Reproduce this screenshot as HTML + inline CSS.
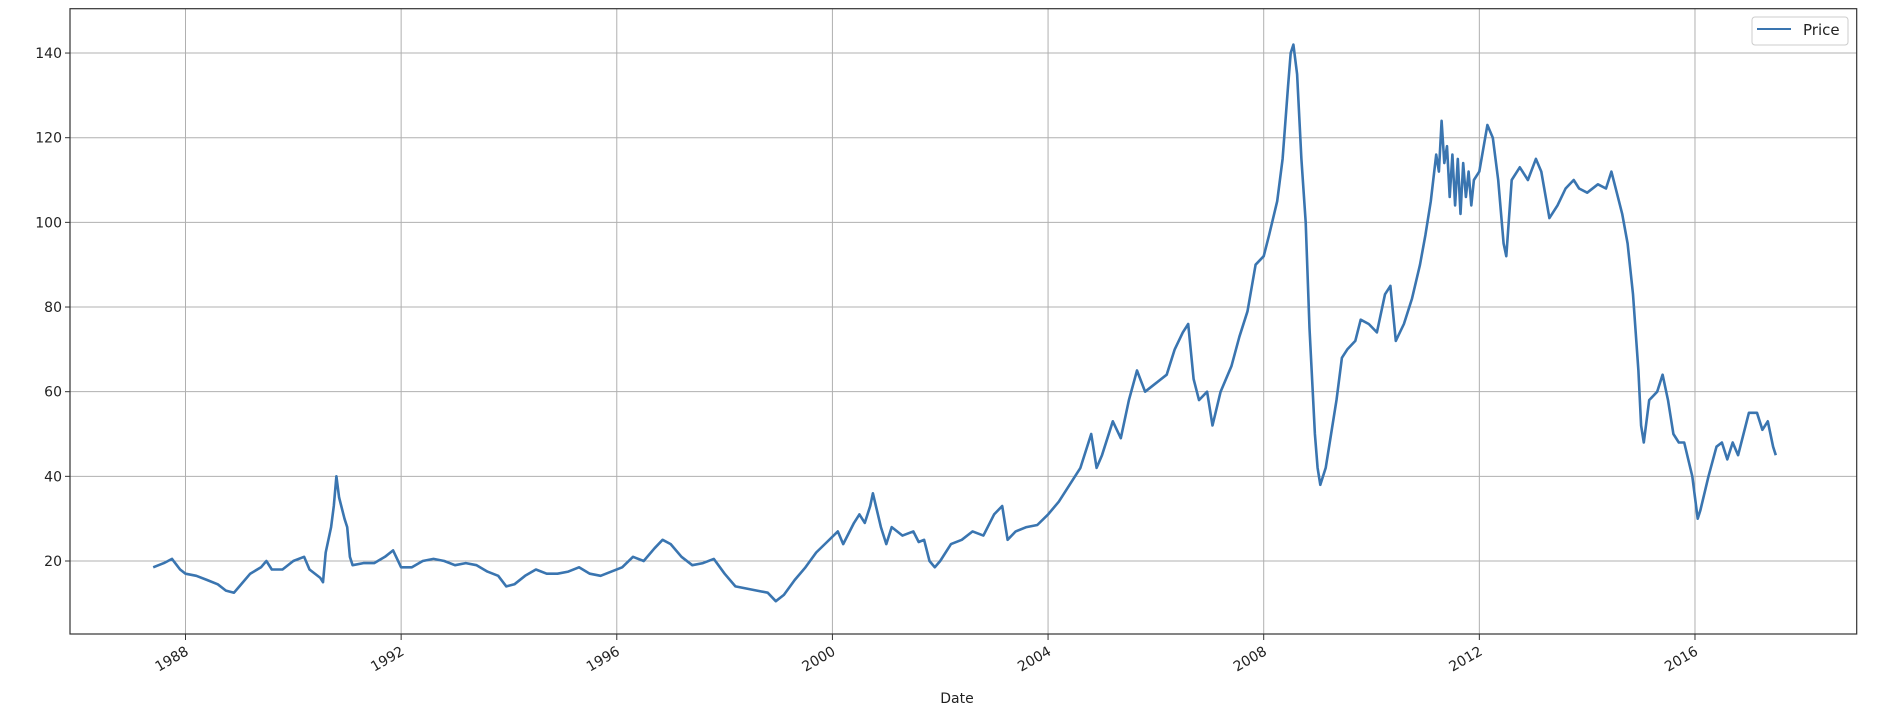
<!DOCTYPE html>
<html><head><meta charset="utf-8"><style>
body{margin:0;background:#fff;}
svg{display:block;font-family:"DejaVu Sans","Liberation Sans",sans-serif;}
</style></head><body>
<svg id="chart" width="1890" height="726" viewBox="0 0 1890 726" xmlns="http://www.w3.org/2000/svg">
<g id="grid"></g>
<g id="series"></g>
<rect x="70" y="8.7" width="1786.7" height="625.3" fill="none" stroke="#333" stroke-width="1.2"/>
<g id="axes"></g>
<text x="957" y="703" font-size="14" text-anchor="middle" fill="#222">Date</text>
<g>
<rect x="1752" y="17" width="96" height="28" rx="3" fill="#fff" stroke="#ccc"/>
<line x1="1757" y1="29" x2="1791" y2="29" stroke="#3a75b0" stroke-width="2"/>
<text x="1803" y="35" font-size="15" fill="#222">Price</text>
</g>
</svg>
<script>
const dates=[1987.4,1987.6,1987.75,1987.9,1988.0,1988.2,1988.4,1988.6,1988.75,1988.9,1989.0,1989.2,1989.4,1989.5,1989.6,1989.8,1990.0,1990.2,1990.3,1990.5,1990.55,1990.6,1990.7,1990.75,1990.8,1990.85,1990.95,1991.0,1991.05,1991.1,1991.3,1991.5,1991.7,1991.85,1992.0,1992.2,1992.4,1992.6,1992.8,1993.0,1993.2,1993.4,1993.6,1993.8,1993.95,1994.1,1994.3,1994.5,1994.7,1994.9,1995.1,1995.3,1995.5,1995.7,1995.9,1996.1,1996.3,1996.5,1996.7,1996.85,1997.0,1997.2,1997.4,1997.6,1997.8,1998.0,1998.2,1998.4,1998.6,1998.8,1998.95,1999.1,1999.3,1999.5,1999.7,1999.9,2000.1,2000.2,2000.4,2000.5,2000.6,2000.7,2000.75,2000.9,2001.0,2001.1,2001.3,2001.5,2001.6,2001.7,2001.8,2001.9,2002.0,2002.2,2002.4,2002.6,2002.8,2003.0,2003.15,2003.25,2003.4,2003.6,2003.8,2004.0,2004.2,2004.4,2004.6,2004.8,2004.9,2005.0,2005.2,2005.35,2005.5,2005.65,2005.8,2006.0,2006.2,2006.35,2006.5,2006.6,2006.7,2006.8,2006.95,2007.05,2007.2,2007.4,2007.55,2007.7,2007.85,2008.0,2008.1,2008.25,2008.35,2008.45,2008.5,2008.55,2008.62,2008.7,2008.78,2008.85,2008.95,2009.0,2009.05,2009.15,2009.25,2009.35,2009.45,2009.55,2009.7,2009.8,2009.95,2010.1,2010.25,2010.35,2010.45,2010.6,2010.75,
2010.9,2011.0,2011.1,2011.2,2011.25,2011.3,2011.35,2011.4,2011.45,2011.5,2011.55,2011.6,2011.65,2011.7,2011.75,2011.8,2011.85,2011.9,2012.0,2012.15,2012.25,
2012.35,2012.45,2012.5,2012.6,2012.75,2012.9,2013.05,2013.15,2013.3,2013.45,2013.6,2013.75,2013.85,2014.0,2014.2,2014.35,2014.45,2014.55,2014.65,2014.75,2014.85,2014.95,2015.0,2015.05,2015.15,2015.3,2015.4,2015.5,2015.6,2015.7,2015.8,2015.95,2016.05,2016.1,2016.25,2016.4,2016.5,2016.6,2016.7,2016.8,2016.9,2017.0,2017.15,2017.25,2017.35,2017.45,2017.5];
const prices=[18.5,19.5,20.5,18,17,16.5,15.5,14.5,13,12.5,14,17,18.5,20,18,18,20,21,18,16,15,22,28,33,40,35,30,28,21,19,19.5,19.5,21,22.5,18.5,18.5,20,20.5,20,19,19.5,19,17.5,16.5,14,14.5,16.5,18,17,17,17.5,18.5,17,16.5,17.5,18.5,21,20,23,25,24,21,19,19.5,20.5,17,14,13.5,13,12.5,10.5,12,15.5,18.5,22,24.5,27,24,29,31,29,33,36,28,24,28,26,27,24.5,25,20,18.5,20,24,25,27,26,31,33,25,27,28,28.5,31,34,38,42,50,42,45,53,49,58,65,60,62,64,70,74,76,63,58,60,52,60,66,73,79,90,92,97,105,115,132,140,142,135,115,100,75,50,42,38,42,50,58,68,70,72,77,76,74,83,85,72,76,82,
90,97,105,116,112,124,114,118,106,116,104,115,102,114,106,112,104,110,112,123,120,
110,95,92,110,113,110,115,112,101,104,108,110,108,107,109,108,112,107,102,95,83,65,52,48,58,60,64,58,50,48,48,40,30,32,40,47,48,44,48,45,50,55,55,51,53,47,45];
const yTicks=[20,40,60,80,100,120,140];
const xTicks=[1988,1992,1996,2000,2004,2008,2012,2016];
const NS="http://www.w3.org/2000/svg";
const L=70,R=1856.7,T=8.7,B=634;
function xs(d){return 185.5+(d-1988)*53.91;}
function ys(v){return 561-(v-20)*4.233;}
const grid=document.getElementById('grid'),axes=document.getElementById('axes'),series=document.getElementById('series');
function mk(tag,attrs,parent){const e=document.createElementNS(NS,tag);for(const k in attrs)e.setAttribute(k,attrs[k]);parent.appendChild(e);return e;}
yTicks.forEach(v=>{const y=ys(v);
 const g=mk('line',{x1:L,x2:R,y1:y,y2:y,stroke:'#b0b0b0','stroke-width':1},grid);
 
 
 const t=mk('line',{x1:L-5,x2:L,y1:y,y2:y,stroke:'#333'},axes);
 
 
 const tx=mk('text',{x:L-8,y:y+5,'font-size':14,'text-anchor':'end',fill:'#222'},axes);
 tx.textContent=v;
 
 
});
xTicks.forEach(d=>{const x=xs(d);
 const g=mk('line',{x1:x,x2:x,y1:T,y2:B,stroke:'#b0b0b0','stroke-width':1},grid);
 
 
 const t=mk('line',{x1:x,x2:x,y1:B,y2:B+6,stroke:'#333'},axes);
 
 
 const tx=mk('text',{x:x+4,y:B+20,'font-size':14,'text-anchor':'end',fill:'#222',transform:`rotate(-30 ${x+4} ${B+20})`},axes);
 tx.textContent=d;
 
 
});
const n=Math.min(dates.length,prices.length);
const pts=dates.slice(0,n).map((d,i)=>xs(d).toFixed(1)+','+ys(prices[i]).toFixed(1)).join(' ');
const pl=mk('polyline',{points:pts,fill:'none',stroke:'#3a75b0','stroke-width':2.6,'stroke-linejoin':'round'},series);


</script>
</body></html>
